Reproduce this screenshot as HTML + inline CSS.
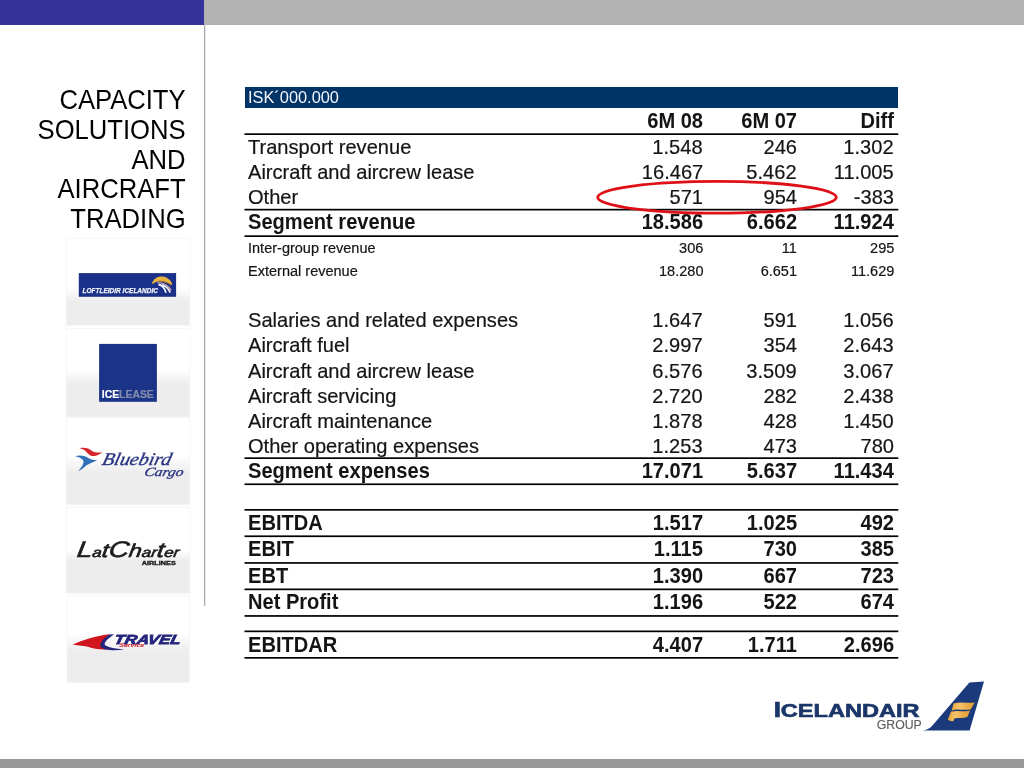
<!DOCTYPE html>
<html lang="en">
<head>
<meta charset="utf-8">
<title>Capacity Solutions and Aircraft Trading</title>
<style>
html,body{margin:0;padding:0;background:#fff;}
body{width:1024px;height:768px;position:relative;overflow:hidden;font-family:"Liberation Sans",sans-serif;color:#000;}
.abs{position:absolute;}
#topblue{left:0;top:0;width:204px;height:25px;background:#333399;}
#topgray{left:204px;top:0;width:820px;height:25px;background:#b2b2b2;}
#vline{left:204px;top:25px;width:2px;height:581px;background:linear-gradient(to right,#a9a9a9 0,#a9a9a9 1px,#e8e8e8 1px,#e8e8e8 2px);}
#botgray{left:0;top:759px;width:1024px;height:9px;background:#999;}
#title{left:0;top:85.2px;width:185.6px;text-align:right;font-size:27.2px;line-height:29.65px;color:#000;transform:scaleX(0.942);transform-origin:100% 0;}
.logo{overflow:hidden;}
.logo svg,#brand svg{position:absolute;left:0;top:0;display:block;font-family:"Liberation Sans",sans-serif;}
#hdr{left:245px;top:87px;width:653px;height:21px;background:#003366;color:#fff;}
#hdr span{position:absolute;left:3px;top:-0.3px;font-size:17.2px;line-height:21px;transform:scaleX(0.952);transform-origin:0 0;white-space:nowrap;color:#f3f6ff;}
.r{left:248px;width:646px;height:25px;font-size:21.0px;white-space:nowrap;color:#141414;-webkit-text-stroke:0.2px #141414;}
.r span{position:absolute;top:0;height:25px;line-height:0;}
.r span::before{content:"";display:inline-block;height:20px;width:0;}
.r .l{left:0;transform:scaleX(0.956);transform-origin:0 0;}
.r .c1{right:191px;transform:scaleX(0.956);transform-origin:100% 0;}
.r .c2{right:97px;transform:scaleX(0.956);transform-origin:100% 0;}
.r .c3{right:0;transform:scaleX(0.956);transform-origin:100% 0;}
.b{font-weight:bold;-webkit-text-stroke:0;font-size:21.6px;}
.r.b span{transform:scaleX(0.9295);}
.s{font-size:15.2px;-webkit-text-stroke:0.2px #141414;}
</style>
</head>
<body>
<div id="topblue" class="abs"></div>
<div id="topgray" class="abs"></div>
<div id="vline" class="abs"></div>
<div id="botgray" class="abs"></div>

<div id="title" class="abs">CAPACITY<br>SOLUTIONS<br>AND<br>AIRCRAFT<br>TRADING</div>

<div class="abs logo" id="logo1" style="left:64px;top:236px;width:128px;height:92px">
<svg width="128" height="92" viewBox="64 236 128 92">
<defs><linearGradient id="lg1" x1="0" y1="0" x2="0" y2="1"><stop offset="0" stop-color="#fff"/><stop offset="0.56" stop-color="#fff"/><stop offset="0.72" stop-color="#ededed"/><stop offset="1" stop-color="#ededed"/></linearGradient></defs>
<rect x="66.2" y="238.3" width="123.7" height="87.3" fill="url(#lg1)" stroke="#f6f6f6" stroke-width="0.8"/>
<rect x="78.8" y="273.1" width="97.3" height="23.7" fill="#1b3088"/>
<text x="82.6" y="292.5" font-size="7.3" font-weight="bold" font-style="italic" fill="#f4f6fb" stroke="#f4f6fb" stroke-width="0.25" textLength="75.3" lengthAdjust="spacingAndGlyphs">LOFTLEIDIR ICELANDIC</text>
<path d="M152.1 283.8 C152.3 281 155.4 277.4 160 276.6 C165.2 275.9 170 278.6 172 283.6 C172.4 285 171.4 285.4 170.4 284.6 C167.4 282.4 163 281.4 158.8 281.6 C156.2 281.8 154.2 282.6 153 284.1 Z" fill="#e6b440"/>
<path d="M158.4 281.2 C163.4 280.6 168.4 282.8 171.4 285.6" fill="none" stroke="#a5652c" stroke-width="0.9"/>
<path d="M157.4 282.8 C162.6 282.4 168 285.2 171.2 290.4" fill="none" stroke="#e7b4ac" stroke-width="1.1"/>
<path d="M158.4 284.4 C162 285.2 164.8 288.2 166 292.8" fill="none" stroke="#f4f6ff" stroke-width="1.8"/>
<path d="M162 284.8 C165.6 286 168.6 288.8 170.2 292.6" fill="none" stroke="#f4f6ff" stroke-width="1.6"/>
</svg>
</div>
<div class="abs logo" id="logo2" style="left:64px;top:326px;width:128px;height:94px">
<svg width="128" height="94" viewBox="64 326 128 94">
<defs><linearGradient id="lg2" x1="0" y1="0" x2="0" y2="1"><stop offset="0" stop-color="#fff"/><stop offset="0.46" stop-color="#fff"/><stop offset="0.63" stop-color="#ededed"/><stop offset="1" stop-color="#ededed"/></linearGradient></defs>
<rect x="66.2" y="328.6" width="123.7" height="88.6" fill="url(#lg2)" stroke="#f6f6f6" stroke-width="0.8"/>
<rect x="99.1" y="343.9" width="57.8" height="57.9" fill="#1c3488"/>
<text x="101.8" y="398.1" font-size="10.4" font-weight="bold" fill="#fff" stroke="#fff" stroke-width="0.2" textLength="52" lengthAdjust="spacingAndGlyphs">ICE<tspan fill="#848cab" stroke="#848cab">LEASE</tspan></text>
</svg>
</div>
<div class="abs logo" id="logo3" style="left:64px;top:415px;width:128px;height:92px">
<svg width="128" height="92" viewBox="64 415 128 92">
<defs><linearGradient id="lg3" x1="0" y1="0" x2="0" y2="1"><stop offset="0" stop-color="#fff"/><stop offset="0.43" stop-color="#fff"/><stop offset="0.63" stop-color="#ededed"/><stop offset="1" stop-color="#ededed"/></linearGradient></defs>
<rect x="66.2" y="417.9" width="123.7" height="86.9" fill="url(#lg3)" stroke="#f6f6f6" stroke-width="0.8"/>
<path d="M79.6 448.2 C84.6 447.2 88.8 448.4 92.6 451.2 C95.2 452.6 98.8 452.8 102.4 452.4 C98.8 455 94.6 456.4 91.4 456 C88.8 455.2 87.4 452.4 84.6 450.2 C83 449.2 81.4 448.6 79.6 448.2 Z" fill="#d6242c"/>
<path d="M74.8 456.2 C80.6 454.8 85.8 456 89.2 458.6 C91.8 460 94.6 460.4 97.2 460.2 C92.8 462.6 88.8 463.6 86.6 465.2 C84 467.2 81.8 469.6 78.2 471.2 C81.4 467.6 83.6 464.2 83.6 461.8 C83 458.8 79.4 457 74.8 456.2 Z" fill="#2f72b8"/>
<g fill="#2a3580" stroke="#2a3580" stroke-width="0.35" font-family="'Liberation Serif',serif" font-style="italic">
<text transform="translate(101.2 464.5) skewX(-14)" font-size="17.8" textLength="69" lengthAdjust="spacingAndGlyphs">Bluebird</text>
<text transform="translate(143.8 476.2) skewX(-14)" font-size="12.6" textLength="38.8" lengthAdjust="spacingAndGlyphs">Cargo</text>
</g>
</svg>
</div>
<div class="abs logo" id="logo4" style="left:64px;top:505px;width:128px;height:91px">
<svg width="128" height="91" viewBox="64 505 128 91">
<defs><linearGradient id="lg4" x1="0" y1="0" x2="0" y2="1"><stop offset="0" stop-color="#fff"/><stop offset="0.49" stop-color="#fff"/><stop offset="0.62" stop-color="#ededed"/><stop offset="1" stop-color="#ededed"/></linearGradient></defs>
<rect x="66.2" y="507.0" width="123.7" height="86.6" fill="url(#lg4)" stroke="#f6f6f6" stroke-width="0.8"/>
<text transform="translate(76.2 557.3) skewX(-8) scale(1.25 1)" font-style="italic" fill="#1c1c1c" stroke="#1c1c1c" stroke-width="0.6" font-size="13.6"><tspan font-size="22.5">L</tspan>a<tspan font-size="19.5">t</tspan><tspan font-size="22.5">C</tspan><tspan font-size="18.5">h</tspan>ar<tspan font-size="21">t</tspan>er</text>
<text x="141.8" y="564.6" font-size="6.2" font-weight="bold" fill="#161616" stroke="#161616" stroke-width="0.35" textLength="34" lengthAdjust="spacingAndGlyphs">AIRLINES</text>
</svg>
</div>
<div class="abs logo" id="logo5" style="left:64px;top:593px;width:128px;height:92px">
<svg width="128" height="92" viewBox="64 593 128 92">
<defs><linearGradient id="lg5" x1="0" y1="0" x2="0" y2="1"><stop offset="0" stop-color="#fff"/><stop offset="0.44" stop-color="#fff"/><stop offset="0.64" stop-color="#ededed"/><stop offset="1" stop-color="#ededed"/></linearGradient></defs>
<rect x="67.0" y="595.8" width="122.7" height="86.6" fill="url(#lg5)" stroke="#f6f6f6" stroke-width="0.8"/>
<path d="M72.6 644.4 C84 639.6 97 635.4 110 634.2 C105.4 637.6 101.6 641.4 101.6 644.4 C102 646.4 104 648 107 649.4 C98.6 649.6 92.6 648.8 88.6 647 C84.6 645.4 79 645.6 72.6 644.4 Z" fill="#d0151f"/>
<path d="M109.4 634.4 L114.4 634.2 C108.8 637.8 104.8 641.4 104.6 644 C104.8 646.6 112 648.4 124.2 649.6 C114 651 103.6 650.4 100.6 646.8 C99.2 643 103.4 638.4 109.4 634.4 Z" fill="#23247c"/>
<text transform="translate(113.6 643.7) skewX(-12)" font-size="13.2" font-weight="bold" font-style="italic" fill="#23247c" stroke="#23247c" stroke-width="0.8" textLength="66.4" lengthAdjust="spacingAndGlyphs">TRAVEL</text>
<text transform="translate(119 646.9) skewX(-10)" font-size="5.8" font-weight="bold" font-style="italic" fill="#d0151f" textLength="25" lengthAdjust="spacingAndGlyphs">Service</text>
</svg>
</div>

<div id="hdr" class="abs"><span>ISK´000.000</span></div>
<div class="abs r b" style="top:107.5px"><span class="c1">6M 08</span><span class="c2">6M 07</span><span class="c3">Diff</span></div>
<div class="abs r" style="top:134px"><span class="l">Transport revenue</span><span class="c1">1.548</span><span class="c2">246</span><span class="c3">1.302</span></div>
<div class="abs r" style="top:159px"><span class="l">Aircraft and aircrew lease</span><span class="c1">16.467</span><span class="c2">5.462</span><span class="c3">11.005</span></div>
<div class="abs r" style="top:184px"><span class="l">Other</span><span class="c1">571</span><span class="c2">954</span><span class="c3">-383</span></div>
<div class="abs r b" style="top:209.3px"><span class="l">Segment revenue</span><span class="c1">18.586</span><span class="c2">6.662</span><span class="c3">11.924</span></div>
<div class="abs r s" style="top:233.2px"><span class="l">Inter-group revenue</span><span class="c1">306</span><span class="c2">11</span><span class="c3">295</span></div>
<div class="abs r s" style="top:255.7px"><span class="l">External revenue</span><span class="c1">18.280</span><span class="c2">6.651</span><span class="c3">11.629</span></div>
<div class="abs r" style="top:307.2px"><span class="l">Salaries and related expenses</span><span class="c1">1.647</span><span class="c2">591</span><span class="c3">1.056</span></div>
<div class="abs r" style="top:332.4px"><span class="l">Aircraft fuel</span><span class="c1">2.997</span><span class="c2">354</span><span class="c3">2.643</span></div>
<div class="abs r" style="top:357.6px"><span class="l">Aircraft and aircrew lease</span><span class="c1">6.576</span><span class="c2">3.509</span><span class="c3">3.067</span></div>
<div class="abs r" style="top:382.8px"><span class="l">Aircraft servicing</span><span class="c1">2.720</span><span class="c2">282</span><span class="c3">2.438</span></div>
<div class="abs r" style="top:407.9px"><span class="l">Aircraft maintenance</span><span class="c1">1.878</span><span class="c2">428</span><span class="c3">1.450</span></div>
<div class="abs r" style="top:433px"><span class="l">Other operating expenses</span><span class="c1">1.253</span><span class="c2">473</span><span class="c3">780</span></div>
<div class="abs r b" style="top:458px"><span class="l">Segment expenses</span><span class="c1">17.071</span><span class="c2">5.637</span><span class="c3">11.434</span></div>
<div class="abs r b" style="top:510px"><span class="l">EBITDA</span><span class="c1">1.517</span><span class="c2">1.025</span><span class="c3">492</span></div>
<div class="abs r b" style="top:536px"><span class="l">EBIT</span><span class="c1">1.115</span><span class="c2">730</span><span class="c3">385</span></div>
<div class="abs r b" style="top:562.5px"><span class="l">EBT</span><span class="c1">1.390</span><span class="c2">667</span><span class="c3">723</span></div>
<div class="abs r b" style="top:589px"><span class="l">Net Profit</span><span class="c1">1.196</span><span class="c2">522</span><span class="c3">674</span></div>
<div class="abs r b" style="top:631.5px"><span class="l">EBITDAR</span><span class="c1">4.407</span><span class="c2">1.711</span><span class="c3">2.696</span></div>
<svg class="abs" id="rules" style="left:0;top:0" width="1024" height="768" viewBox="0 0 1024 768" fill="#000"><rect x="244.5" y="133.3" width="653.8" height="1.7"/><rect x="244.5" y="208.8" width="653.8" height="1.7"/><rect x="244.5" y="235.3" width="653.8" height="1.7"/><rect x="244.5" y="457.3" width="653.8" height="1.7"/><rect x="244.5" y="483.4" width="653.8" height="1.7"/><rect x="244.5" y="509" width="653.8" height="1.7"/><rect x="244.5" y="535.4" width="653.8" height="1.7"/><rect x="244.5" y="562.1" width="653.8" height="1.7"/><rect x="244.5" y="588.5" width="653.8" height="1.7"/><rect x="244.5" y="615.1" width="653.8" height="1.7"/><rect x="244.5" y="630.5" width="653.8" height="1.7"/><rect x="244.5" y="657" width="653.8" height="1.7"/></svg>
<svg class="abs" id="ring" style="left:590px;top:175px" width="256" height="46" viewBox="0 0 256 46"><ellipse cx="127" cy="22.3" rx="119.3" ry="15.9" fill="none" stroke="#e01018" stroke-width="2.8"/></svg>
<div class="abs" id="brand" style="left:768px;top:676px;width:224px;height:60px">
<svg width="224" height="60" viewBox="768 676 224 60">
<defs><linearGradient id="gold" x1="0" y1="0" x2="1" y2="0"><stop offset="0" stop-color="#e9a63a"/><stop offset="0.35" stop-color="#f3c268"/><stop offset="1" stop-color="#e39a2e"/></linearGradient></defs>
<path d="M922.6 730.6 C926.6 730 929.6 728.6 932 726 L969.4 682.4 L984 681.6 L969.6 730.6 Z" fill="#1b3a7c"/>
<path d="M953.6 703.4 C960 701.4 967.6 703.6 974.8 702.4 L970.6 709.4 C964 710.8 958 708.4 951.6 710.4 Z" fill="url(#gold)"/>
<path d="M951 711.8 C957.6 709.8 964 712.2 970 710.8 L967.4 717 C962.6 718.6 958.6 717.4 954.4 718.4 L953.4 721.2 C951.6 721.6 949.6 721 947.8 719.6 Z" fill="url(#gold)"/>
<g fill="#1b3668" stroke="#1b3668" stroke-width="0.6" font-weight="bold">
<text transform="translate(773.4 716.8) scale(1.2 1)" font-size="22.9">I</text>
<text x="780.8" y="716.8" font-size="18.4" textLength="138.8" lengthAdjust="spacingAndGlyphs">CELANDAIR</text>
</g>
<text x="876.8" y="729.2" font-size="12.5" fill="#5e5e5e" stroke="#5e5e5e" stroke-width="0.15" textLength="45" lengthAdjust="spacingAndGlyphs">GROUP</text>
</svg>
</div>

</body>
</html>
